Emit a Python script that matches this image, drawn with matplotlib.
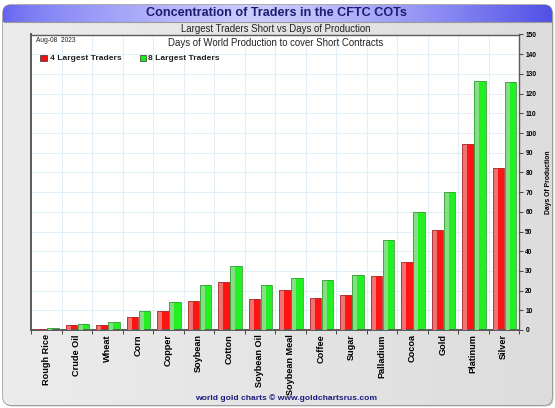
import numpy as np
import matplotlib
matplotlib.use("Agg")
import matplotlib.pyplot as plt
from matplotlib.patches import FancyBboxPatch, Rectangle

plt.rcParams['font.family'] = ['Liberation Sans', 'DejaVu Sans']

categories = ["Rough Rice", "Crude Oil", "Wheat", "Corn", "Copper", "Soybean",
              "Cotton", "Soybean Oil", "Soybean Meal", "Coffee", "Sugar",
              "Palladium", "Cocoa", "Gold", "Platinum", "Silver"]
largest4 = [0.3, 2.4, 2.7, 6.4, 9.5, 14.7, 24.6, 15.6, 20.2, 16.1, 18.0,
            27.6, 34.6, 50.8, 94.4, 82.2]
largest8 = [0.8, 3.2, 3.9, 9.8, 14.4, 22.7, 32.7, 22.7, 26.4, 25.4, 28.0,
            45.9, 59.7, 70.0, 126.6, 125.9]
yticks = list(range(0, 151, 10))

W, H = 555, 408
fig = plt.figure(figsize=(W / 100, H / 100), dpi=100)
fig.patch.set_facecolor('white')

# background axes in pixel coordinates (y down)
bg = fig.add_axes([0, 0, 1, 1], zorder=-5)
bg.set_axis_off()

shadow = FancyBboxPatch((4.5, 6.5), 549, 400, boxstyle="round,pad=0,rounding_size=8",
                        fc='#c8c8c8', ec='none')
bg.add_patch(shadow)
panel = FancyBboxPatch((3, 5), 549, 400, boxstyle="round,pad=0,rounding_size=8",
                       fc='#e4e4e4', ec='#8a8a8a', lw=1.0)
bg.add_patch(panel)

g = np.linspace(0, 1, 256)
gcol = np.zeros((1, 256, 3))
for i in range(3):
    gcol[0, :, i] = 0.925 - 0.06 * g
im_panel = bg.imshow(gcol, extent=(3, 552, 405, 22), aspect='auto', zorder=1)
im_panel.set_clip_path(panel)

# title bar gradient
left = np.array([0x60, 0x60, 0xf0]) / 255
mid = np.array([0xcc, 0xcc, 0xff]) / 255
right = np.array([0x50, 0x50, 0xe8]) / 255
tt = np.linspace(0, 1, 512)
tcol = np.zeros((1, 512, 3))
for i in range(512):
    t = tt[i]
    if t < 0.45:
        tcol[0, i] = left + (mid - left) * (t / 0.45) ** 0.6
    else:
        tcol[0, i] = mid + (right - mid) * ((t - 0.45) / 0.55) ** 1.4
im_title = bg.imshow(tcol, extent=(3, 552, 22, 5), aspect='auto', zorder=2)
im_title.set_clip_path(panel)
bg.plot([3.5, 551.5], [22, 22], color='#9a9a9a', lw=0.8, zorder=3)

bg.set_xlim(0, W)
bg.set_ylim(H, 0)

bg.text(276.5, 13.5, "Concentration of Traders in the CFTC COTs", ha='center', va='center',
        fontsize=9.1, fontweight='bold', color='#1c1c70', zorder=5)
bg.text(275.5, 29.5, "Largest Traders Short vs Days of Production", ha='center', va='center',
        fontsize=6.9, color='#222222', zorder=5)
bg.text(286, 398, "world gold charts \u00a9 www.goldchartsrus.com", ha='center', va='center',
        fontsize=6.1, fontweight='bold', color='#1c1c80', zorder=5)

# main plot axes
x0, x1, y0, y1 = 31, 519, 34.5, 330
ax = fig.add_axes([x0 / W, (H - y1) / H, (x1 - x0) / W, (y1 - y0) / H], zorder=2)
ax.set_facecolor('white')

n = len(categories)
xc = np.arange(n)
ax.set_xlim(-0.5, n - 0.5)
ax.set_ylim(0, 150)

# grid
for v in yticks[1:-1]:
    ax.axhline(v, color='#e3eff8', lw=0.8, zorder=0)
for b in np.arange(n - 1) + 0.5:
    ax.axvline(b, color='#e3eff8', lw=0.8, zorder=0)

w = 0.37
def draw_bars(xs, vals, bright, light, edge):
    ax.bar(xs, vals, width=w, align='edge', color=bright, edgecolor='none', zorder=2)
    ax.bar(xs, vals, width=w * 0.42, align='edge', color=light, edgecolor='none', zorder=3)
    ax.bar(xs, vals, width=w, align='edge', color='none', edgecolor=edge, lw=0.6, zorder=4)

draw_bars(xc - 0.36, largest4, '#ff1414', '#ee7474', '#a83232')
draw_bars(xc + 0.04, largest8, '#22f022', '#84de84', '#38a038')

for s in ax.spines.values():
    s.set_color('#5a5a5a')
    s.set_linewidth(1.0)
ax.spines['left'].set_linewidth(1.4)
ax.spines['bottom'].set_linewidth(1.4)

ax.yaxis.tick_right()
ax.yaxis.set_label_position('right')
ax.set_yticks(yticks)
ax.set_yticklabels([str(v) for v in yticks], fontsize=4.8, fontweight='bold')
ax.tick_params(axis='y', direction='out', length=3, width=0.7, color='#444444', pad=1.5)
ax.set_ylabel("Days Of Production", fontsize=4.9, fontweight='bold', labelpad=6)

ax.set_xticks(xc)
ax.set_xticklabels(categories, rotation=90, fontsize=6.6, fontweight='bold', va='top', ha='center')
ax.tick_params(axis='x', which='major', length=0, pad=3)
ax.set_xticks(np.arange(n + 1) - 0.5, minor=True)
ax.tick_params(axis='x', which='minor', length=3, width=0.7, color='#444444', direction='out')

# overlay texts (above plot)
ov = fig.add_axes([0, 0, 1, 1], zorder=8)
ov.set_axis_off()
ov.patch.set_alpha(0)
ov.set_xlim(0, W)
ov.set_ylim(H, 0)
ov.text(275.5, 43, "Days of World Production to cover Short Contracts", ha='center', va='center',
        fontsize=6.9, color='#222222')
ov.text(36, 40, "Aug-08  2023", ha='left', va='center', fontsize=4.8, color='#222222')
ov.add_patch(Rectangle((40, 54.5), 6.5, 6.5, fc='#ee1111', ec='#333333', lw=0.5))
ov.text(50, 58, "4 Largest Traders", ha='left', va='center', fontsize=6.1,
        fontweight='bold', color='#222222')
ov.add_patch(Rectangle((139.5, 54.5), 6.5, 6.5, fc='#11ee11', ec='#333333', lw=0.5))
ov.text(148.5, 58, "8 Largest Traders", ha='left', va='center', fontsize=6.1,
        fontweight='bold', color='#222222')

fig.savefig("out.png", dpi=100)
